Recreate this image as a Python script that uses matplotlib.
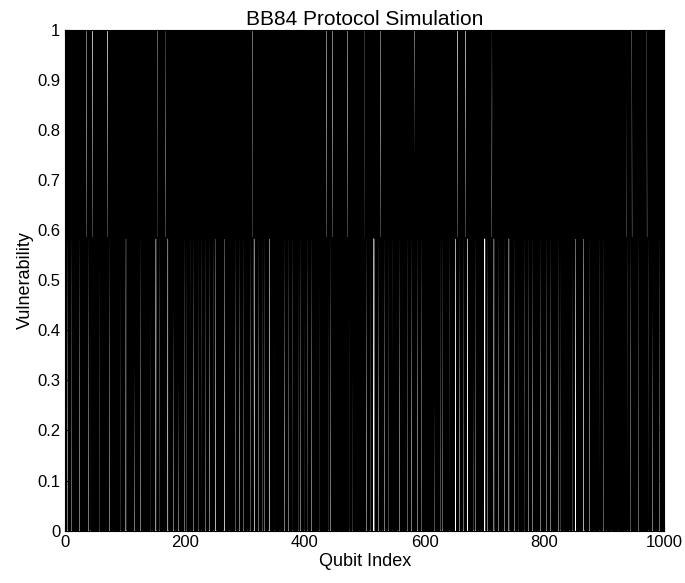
import matplotlib
matplotlib.use("Agg")
import matplotlib.pyplot as plt
import numpy as np

plt.rcParams["font.family"] = ["Liberation Sans", "DejaVu Sans"]

# vulnerability level per qubit, coded 0 / 1 / 2 (approximate)
LEVELS = [0.0, 0.585, 1.0]
CODES = (
    "2021201202120210220120212021022012010212022201021020120212021020210220102120201220210201202120210201"
    "2120210202102012102201202120212012020210212020120212201021201202120102212021020122021201210220120212"
    "0212021021202120120202120212012021202102120202120121202102201202121020120212021020212012021201202120"
    "1202120212010221202102120202120212012022120210202120120212021020212012021202102120201202120212012021"
    "2021201202120210220120212021022012010212022201021020120212021020210220102120201220210201202120210201"
    "0212012021201221202102120102120212012021202102120120212021202102201202120210212021012021202102120120"
    "2120210202102012102201202120212012020210212020120212201021201202120102212021020122021201210220120212"
    "1202120212010221202102120202120212012022120210202120120212021020212012021202102120201202120212012021"
    "0212021021202120120202120212012021202102120202120121202102201202121020120212021020212012021201202120"
    "2021201202120210220120212021022012010212022201021020120212021020210220102120201220210201202120210202"
)
qubit_index = np.arange(1, len(CODES) + 1)
vulnerability = [LEVELS[int(c)] for c in CODES]

fig, ax = plt.subplots(figsize=(6.85, 5.83), dpi=100)
fig.subplots_adjust(left=0.095, right=0.97, top=0.948, bottom=0.09)
ax.plot(qubit_index, vulnerability, color="black", linewidth=1.2)
ax.set_xlim(0, 1000)
ax.set_ylim(0, 1)
ax.set_xticks(range(0, 1001, 200))
ax.set_yticks(np.round(np.arange(0, 1.01, 0.1), 1))
ax.set_yticklabels(["0", "0.1", "0.2", "0.3", "0.4", "0.5", "0.6", "0.7", "0.8", "0.9", "1"])
ax.tick_params(direction="in", labelsize=12, top=True, right=True)
ax.set_xlabel("Qubit Index", fontsize=13, labelpad=2)
ax.set_ylabel("Vulnerability", fontsize=13, labelpad=2)
ax.set_title("BB84 Protocol Simulation", fontsize=15, pad=4)
fig.savefig("out.png")
